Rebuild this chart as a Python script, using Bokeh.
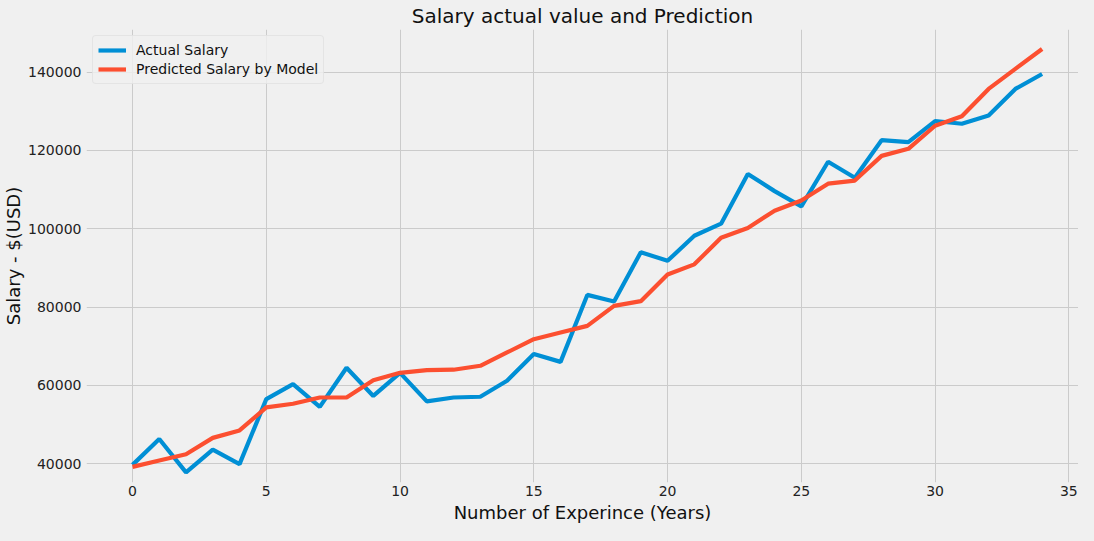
from bokeh.plotting import figure
from bokeh.models import Range1d, FixedTicker, Legend, LegendItem, NumeralTickFormatter
from bokeh.embed import file_html
from bokeh.resources import INLINE

years = list(range(35))
actual_salary = [39700, 46300, 37800, 43600, 39900, 56500, 60300, 54500, 64500, 57300,
                 63200, 55900, 56900, 57100, 61200, 68000, 66000, 83100, 81400, 94000,
                 91800, 98200, 101300, 114000, 109600, 105700, 117100, 113000, 122600, 122100,
                 127500, 126800, 128900, 135700, 139500]
predicted_salary = [39200, 40800, 42400, 46600, 48500, 54400, 55300, 56900, 56900, 61300,
                    63200, 63900, 64000, 65000, 68400, 71800, 73500, 75200, 80300, 81500,
                    88300, 90900, 97700, 100200, 104600, 107200, 111500, 112300, 118600, 120400,
                    126300, 128700, 135700, 140800, 145900]
x_ticks = [0, 5, 10, 15, 20, 25, 30, 35]
y_ticks = [40000, 60000, 80000, 100000, 120000, 140000]

FONT = "DejaVu Sans"
BG = "#f0f0f0"

p = figure(width=1078, height=525, output_backend="svg", toolbar_location=None,
           x_range=Range1d(-1.72, 35.36), y_range=Range1d(35200, 150870),
           min_border_left=79, min_border_right=0, min_border_top=20, min_border_bottom=39,
           background_fill_color=BG, border_fill_color=BG, outline_line_color=None)

p.title.text = "Salary actual value and Prediction"
p.title.align = "center"
p.title.text_font = FONT
p.title.text_font_size = "20px"
p.title.text_font_style = "normal"
p.title.text_color = "#111111"
p.title.offset = 0
p.title.standoff = 3

r1 = p.line(years, actual_salary, line_color="#008fd5", line_width=4.2)
r2 = p.line(years, predicted_salary, line_color="#fc4f30", line_width=4.2)

for ax in (p.xaxis[0], p.yaxis[0]):
    ax.axis_line_color = None
    ax.major_tick_line_color = None
    ax.minor_tick_line_color = None
    ax.major_tick_out = 0
    ax.major_tick_in = 0
    ax.minor_tick_out = 0
    ax.major_label_text_font = FONT
    ax.major_label_text_font_size = "14px"
    ax.major_label_text_color = "#222222"
    ax.axis_label_text_font = FONT
    ax.axis_label_text_font_size = "18px"
    ax.axis_label_text_font_style = "normal"
    ax.axis_label_text_color = "#111111"

p.xaxis.ticker = FixedTicker(ticks=x_ticks)
p.yaxis.ticker = FixedTicker(ticks=y_ticks)
p.yaxis.formatter = NumeralTickFormatter(format="0")
p.xaxis.axis_label = "Number of Experince (Years)"
p.yaxis.axis_label = "Salary - $(USD)"
p.xaxis.major_label_standoff = 3
p.xaxis.axis_label_standoff = 3
p.yaxis.major_label_standoff = 5
p.yaxis.axis_label_standoff = 1

p.grid.grid_line_color = "#cbcbcb"
p.grid.grid_line_width = 1

legend = Legend(items=[LegendItem(label="Actual Salary", renderers=[r1]),
                       LegendItem(label="Predicted Salary by Model", renderers=[r2])],
                location="top_left")
legend.label_text_font = FONT
legend.label_text_font_size = "14px"
legend.label_text_color = "#111111"
legend.background_fill_color = BG
legend.background_fill_alpha = 0.8
legend.border_line_color = "#d8d8d8"
legend.border_line_width = 1
legend.border_radius = 4
legend.glyph_width = 28
legend.glyph_height = 18
legend.label_standoff = 10
legend.spacing = 1
legend.padding = 5
legend.margin = 6
p.add_layout(legend)

html = file_html(p, INLINE)
html = html.replace("</head>", "<style>html, body { background-color: #f0f0f0; }</style>\n</head>", 1)
open("out.html", "w").write(html)
